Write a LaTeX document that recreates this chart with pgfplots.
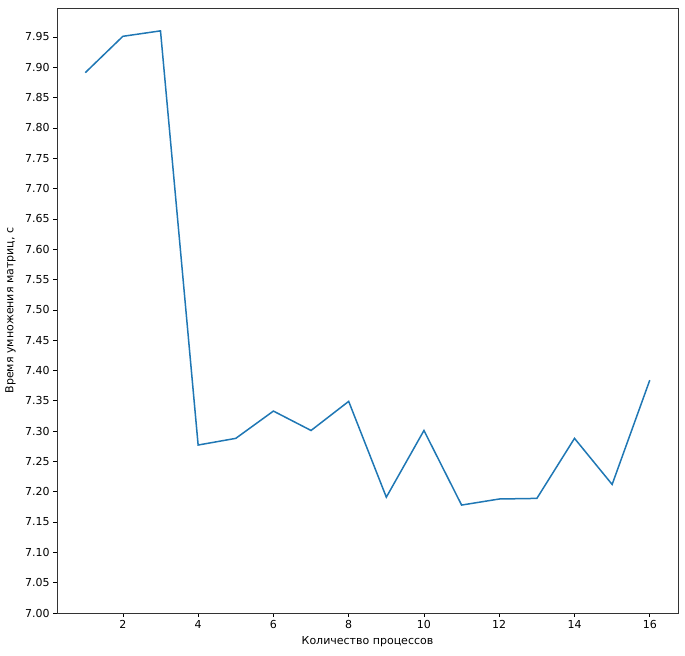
\documentclass[border=0pt]{standalone}
\usepackage{fontspec}
\setmainfont{DejaVu Sans}
\usepackage{pgfplots}
\pgfplotsset{compat=1.18}
\definecolor{mplblue}{HTML}{1F77B4}
\begin{document}
\fontsize{11}{13}\selectfont
\begin{tikzpicture}
\begin{axis}[
  scale only axis,
  width=621pt, height=605pt,
  xmin=0.25, xmax=16.75,
  ymin=7.00, ymax=7.9977,
  xtick={2,4,...,16},
  ytick={7.00,7.05,...,7.96},
  yticklabel style={/pgf/number format/.cd,fixed,fixed zerofill,precision=2},
  /pgf/number format/assume math mode=true,
  tick align=outside,
  tick style={black, line width=0.6pt},
  major tick length=3.5pt,
  xtick pos=bottom, ytick pos=left,
  axis line style={line width=0.6pt, black!80},
  tick label style={font=\fontsize{11}{13}\selectfont},
  label style={font=\fontsize{11}{13}\selectfont},
  xlabel={Количество процессов},
  ylabel={Время умножения матриц, с},
  xlabel style={yshift=0pt},
  ylabel style={yshift=2pt},
]
\addplot[mplblue, line width=1.5pt, mark=none] coordinates {
(1,7.891) (2,7.951) (3,7.960) (4,7.277) (5,7.288) (6,7.333) (7,7.301) (8,7.349)
(9,7.191) (10,7.301) (11,7.178) (12,7.188) (13,7.189) (14,7.288) (15,7.212) (16,7.384)
};
\end{axis}
\pgfresetboundingbox
\path (current axis.south west) ++(-57pt,-42pt) coordinate (bl);
\path (current axis.north east) ++(7pt,8pt) coordinate (tr);
\path[use as bounding box] (bl) rectangle (tr);
\end{tikzpicture}
\end{document}
